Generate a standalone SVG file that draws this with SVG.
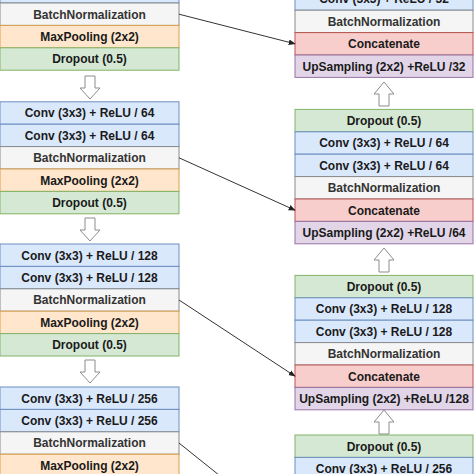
<svg xmlns="http://www.w3.org/2000/svg" width="474" height="474" viewBox="0 0 474 474">
<defs>
<style>
.r{stroke-width:1}
.conv{fill:#dae8fc;stroke:#6c8ebf}
.bn{fill:#f5f5f5;stroke:#8a8a8a}
.mp{fill:#ffe6cc;stroke:#d7a04a}
.do{fill:#d5e8d4;stroke:#82b366}
.cc{fill:#f8cecc;stroke:#b85450}
.up{fill:#e1d5e7;stroke:#9673a6}
text{font-family:"Liberation Sans",Arial,sans-serif;font-size:12px;font-weight:bold;fill:#1a1a1a;text-anchor:middle}
text.g{fill:#333}
.ar{fill:#fff;stroke:#8c8c8c;stroke-width:1}
.ln{stroke:#333;stroke-width:1;fill:none;marker-end:url(#ah)}
</style>
<marker id="ah" viewBox="0 0 10 10" refX="9" refY="5" markerWidth="7" markerHeight="7" orient="auto" markerUnits="userSpaceOnUse">
<path d="M0,1 L10,5 L0,9 Z" fill="#222"/>
</marker>
<path id="da" d="M-5,0 H5 V12 H10 L0,23 L-10,12 H-5 Z"/>
<path id="ua" d="M-5,24 H5 V12 H10 L0,0 L-10,12 H-5 Z"/>
</defs>
<rect width="474" height="474" fill="#fff"/>

<g id="enc1">
<rect class="r conv" x="0" y="-19.4" width="179" height="22.4"/>
<rect class="r bn" x="0" y="3" width="179" height="22.4"/>
<text class="g" x="89.5" y="18.5">BatchNormalization</text>
<rect class="r mp" x="0" y="25.4" width="179" height="22.4"/>
<text x="89.5" y="40.9">MaxPooling (2x2)</text>
<rect class="r do" x="0" y="47.8" width="179" height="22.4"/>
<text x="89.5" y="63.3">Dropout (0.5)</text>
</g>

<g id="enc2">
<rect class="r conv" x="0" y="101.8" width="179" height="22.4"/>
<text x="89.5" y="117.3">Conv (3x3) + ReLU / 64</text>
<rect class="r conv" x="0" y="124.2" width="179" height="22.4"/>
<text x="89.5" y="139.7">Conv (3x3) + ReLU / 64</text>
<rect class="r bn" x="0" y="146.6" width="179" height="22.4"/>
<text class="g" x="89.5" y="162.1">BatchNormalization</text>
<rect class="r mp" x="0" y="169" width="179" height="22.4"/>
<text x="89.5" y="184.5">MaxPooling (2x2)</text>
<rect class="r do" x="0" y="191.4" width="179" height="22.4"/>
<text x="89.5" y="206.9">Dropout (0.5)</text>
</g>

<g id="enc3">
<rect class="r conv" x="0" y="244" width="179" height="22.4"/>
<text x="89.5" y="259.5">Conv (3x3) + ReLU / 128</text>
<rect class="r conv" x="0" y="266.4" width="179" height="22.4"/>
<text x="89.5" y="281.9">Conv (3x3) + ReLU / 128</text>
<rect class="r bn" x="0" y="288.8" width="179" height="22.4"/>
<text class="g" x="89.5" y="304.3">BatchNormalization</text>
<rect class="r mp" x="0" y="311.2" width="179" height="22.4"/>
<text x="89.5" y="326.7">MaxPooling (2x2)</text>
<rect class="r do" x="0" y="333.6" width="179" height="22.4"/>
<text x="89.5" y="349.1">Dropout (0.5)</text>
</g>

<g id="enc4">
<rect class="r conv" x="0" y="387" width="179" height="22.4"/>
<text x="89.5" y="402.5">Conv (3x3) + ReLU / 256</text>
<rect class="r conv" x="0" y="409.4" width="179" height="22.4"/>
<text x="89.5" y="424.9">Conv (3x3) + ReLU / 256</text>
<rect class="r bn" x="0" y="431.8" width="179" height="22.4"/>
<text class="g" x="89.5" y="447.3">BatchNormalization</text>
<rect class="r mp" x="0" y="454.2" width="179" height="22.4"/>
<text x="89.5" y="469.7">MaxPooling (2x2)</text>
</g>

<g id="dec1">
<rect class="r conv" x="295" y="-12.2" width="178" height="22.4"/>
<text x="384" y="3.3">Conv (3x3) + ReLU / 32</text>
<rect class="r bn" x="295" y="10.2" width="178" height="22.4"/>
<text class="g" x="384" y="25.7">BatchNormalization</text>
<rect class="r cc" x="295" y="32.6" width="178" height="22.4"/>
<text x="384" y="48.1">Concatenate</text>
<rect class="r up" x="295" y="55" width="178" height="22.4"/>
<text x="384" y="70.5">UpSampling (2x2) +ReLU /32</text>
</g>

<g id="dec2">
<rect class="r do" x="295" y="109.4" width="178" height="22.4"/>
<text x="384" y="124.9">Dropout (0.5)</text>
<rect class="r conv" x="295" y="131.8" width="178" height="22.4"/>
<text x="384" y="147.3">Conv (3x3) + ReLU / 64</text>
<rect class="r conv" x="295" y="154.2" width="178" height="22.4"/>
<text x="384" y="169.7">Conv (3x3) + ReLU / 64</text>
<rect class="r bn" x="295" y="176.6" width="178" height="22.4"/>
<text class="g" x="384" y="192.1">BatchNormalization</text>
<rect class="r cc" x="295" y="199" width="178" height="22.4"/>
<text x="384" y="214.5">Concatenate</text>
<rect class="r up" x="295" y="221.4" width="178" height="22.4"/>
<text x="384" y="236.9">UpSampling (2x2) +ReLU /64</text>
</g>

<g id="dec3">
<rect class="r do" x="295" y="275.4" width="178" height="22.4"/>
<text x="384" y="290.9">Dropout (0.5)</text>
<rect class="r conv" x="295" y="297.8" width="178" height="22.4"/>
<text x="384" y="313.3">Conv (3x3) + ReLU / 128</text>
<rect class="r conv" x="295" y="320.2" width="178" height="22.4"/>
<text x="384" y="335.7">Conv (3x3) + ReLU / 128</text>
<rect class="r bn" x="295" y="342.6" width="178" height="22.4"/>
<text class="g" x="384" y="358.1">BatchNormalization</text>
<rect class="r cc" x="295" y="365" width="178" height="22.4"/>
<text x="384" y="380.5">Concatenate</text>
<rect class="r up" x="295" y="387.4" width="178" height="22.4"/>
<text x="384" y="402.9">UpSampling (2x2) +ReLU /128</text>
</g>

<g id="dec4">
<rect class="r do" x="295" y="435" width="178" height="22.4"/>
<text x="384" y="450.5">Dropout (0.5)</text>
<rect class="r conv" x="295" y="457.4" width="178" height="22.4"/>
<text x="384" y="472.9">Conv (3x3) + ReLU / 256</text>
</g>

<g id="flow-arrows">
<use href="#da" class="ar" x="90" y="76"/>
<use href="#da" class="ar" x="90" y="218"/>
<use href="#da" class="ar" x="90" y="360"/>
<use href="#ua" class="ar" x="384" y="82"/>
<use href="#ua" class="ar" x="384" y="248"/>
<use href="#ua" class="ar" x="384" y="410"/>
</g>

<g id="connectors">
<line class="ln" x1="179" y1="14.2" x2="295" y2="43.8"/>
<line class="ln" x1="179" y1="157.8" x2="295" y2="210.2"/>
<line class="ln" x1="179" y1="300" x2="295" y2="376.2"/>
<line class="ln" x1="179" y1="443" x2="295" y2="536"/>
</g>
</svg>
